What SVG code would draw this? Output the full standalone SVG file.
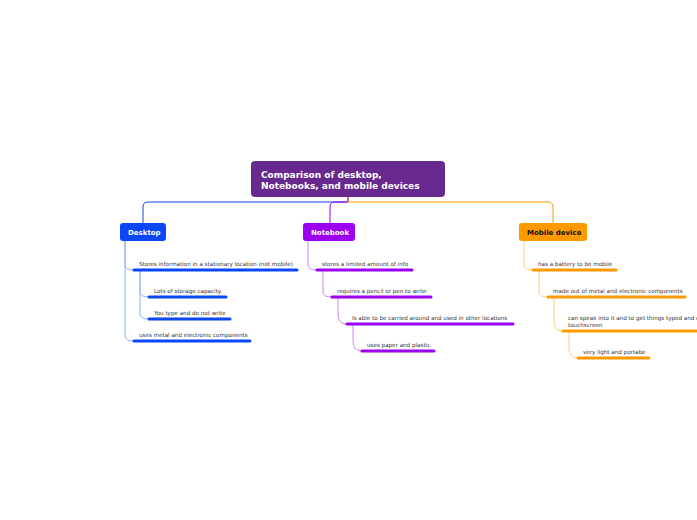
<svg xmlns="http://www.w3.org/2000/svg" width="697" height="520" viewBox="0 0 697 520">
<style>
text{font-family:"DejaVu Sans",Verdana,sans-serif}
.t{font-size:5.6px;fill:#333}
.h{font-size:7px;font-weight:bold;fill:#fff}
.c{fill:none;stroke-width:1}
.u{stroke-width:3;stroke-linecap:round}
.b{stroke:#0a47f5}.p{stroke:#9b00f0}.o{stroke:#ff9900}
.lb{stroke:#8fb0ff}.lp{stroke:#cf80f8}.lo{stroke:#ffcc80}
</style>
<rect width="697" height="520" fill="#fff"/>
<g id="connectors">
<path class="c b" d="M348,197 V202 H148 Q143,202 143,207 V223"/>
<path class="c p" d="M348,197 V202 H335 Q330,202 330,207 V223"/>
<path class="c o" d="M348,197 V202 H548 Q553,202 553,207 V223"/>
<path class="c lb" d="M125,241 V265 Q125,270 134,270"/>
<path class="c lb" d="M125,241 V336 Q125,341 134,341"/>
<path class="c lb" d="M140,270 V292 Q140,297 149,297"/>
<path class="c lb" d="M140,270 V314 Q140,319 149,319"/>
<path class="c lp" d="M308,241 V265 Q308,270 317,270"/>
<path class="c lp" d="M323,270 V292 Q323,297 332,297"/>
<path class="c lp" d="M338,297 V314 Q338,324 347,324"/>
<path class="c lp" d="M353,324 V341 Q353,351 362,351"/>
<path class="c lo" d="M524,241 V265 Q524,270 533,270"/>
<path class="c lo" d="M539,270 V292 Q539,297 548,297"/>
<path class="c lo" d="M554,297 V321 Q554,331 563,331"/>
<path class="c lo" d="M569,331 V348 Q569,358 578,358"/>
<line class="u b" x1="134" y1="270" x2="297" y2="270"/>
<line class="u b" x1="149" y1="297" x2="226" y2="297"/>
<line class="u b" x1="149" y1="319" x2="230" y2="319"/>
<line class="u b" x1="134" y1="341" x2="250" y2="341"/>
<line class="u p" x1="317" y1="270" x2="412" y2="270"/>
<line class="u p" x1="332" y1="297" x2="431" y2="297"/>
<line class="u p" x1="347" y1="324" x2="513" y2="324"/>
<line class="u p" x1="362" y1="351" x2="434" y2="351"/>
<line class="u o" x1="533" y1="270" x2="616" y2="270"/>
<line class="u o" x1="548" y1="297" x2="685" y2="297"/>
<line class="u o" x1="563" y1="331" x2="700" y2="331"/>
<line class="u o" x1="578" y1="358" x2="649" y2="358"/>
</g>
<g id="root"><rect x="251" y="161" width="194" height="36" rx="4" fill="#68298f"/>
<text x="261" y="178" style="font-size:9px;font-weight:bold;fill:#fff">Comparison of desktop,</text>
<text x="261" y="189" style="font-size:9px;font-weight:bold;fill:#fff">Notebooks, and mobile devices</text></g>
<g id="desktop"><rect x="120" y="223" width="46" height="18" rx="3" fill="#0a47f5"/><text class="h" x="128" y="235">Desktop</text></g>
<g id="notebook"><rect x="303" y="223" width="52" height="18" rx="3" fill="#9b00f0"/><text class="h" x="311" y="235">Notebook</text></g>
<g id="mobile"><rect x="519" y="223" width="68" height="18" rx="3" fill="#ff9900"/><text class="h" x="527" y="235" style="fill:#111">Mobile device</text></g>
<g id="d1"><text class="t" x="139" y="266">Stores information in a stationary location (not mobile)</text></g>
<g id="d2"><text class="t" x="154" y="293">Lots of storage capacity.</text></g>
<g id="d3"><text class="t" x="154" y="315">You type and do not write</text></g>
<g id="d4"><text class="t" x="139" y="337">uses metal and electronic components</text></g>
<g id="n1"><text class="t" x="322" y="266">stores a limited amount of info</text></g>
<g id="n2"><text class="t" x="337" y="293">requires a pencil or pen to write</text></g>
<g id="n3"><text class="t" x="352" y="320">Is able to be carried around and used in other locations</text></g>
<g id="n4"><text class="t" x="367" y="347">uses paper and plastic</text></g>
<g id="m1"><text class="t" x="538" y="266">has a battery to be mobile</text></g>
<g id="m2"><text class="t" x="553" y="293">made out of metal and electronic components</text></g>
<g id="m3"><text class="t" x="568" y="320">can speak into it and to get things typed and on the</text><text class="t" x="568" y="327">touchscreen</text></g>
<g id="m4"><text class="t" x="583" y="354">very light and portabe</text></g>
</svg>
